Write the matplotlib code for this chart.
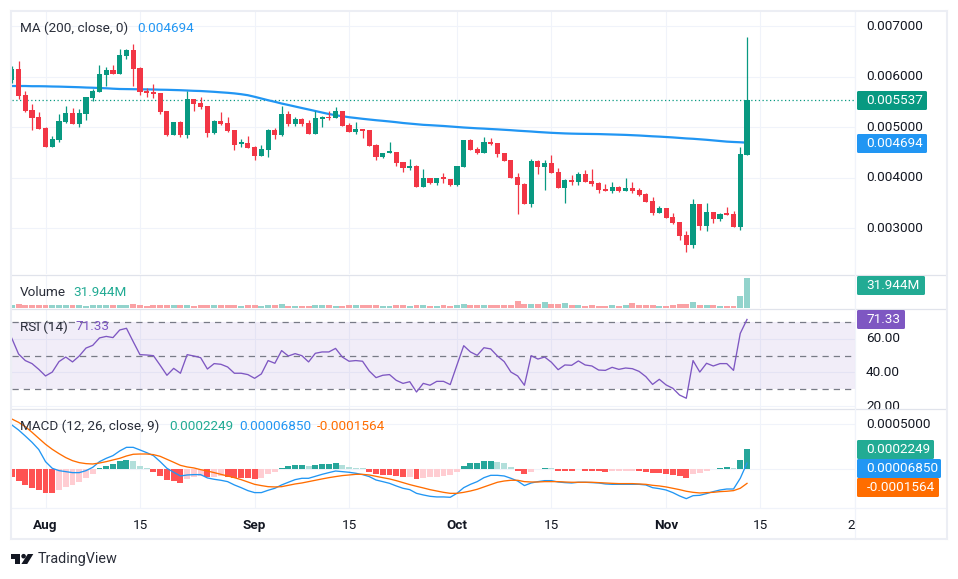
import matplotlib
matplotlib.use("Agg")
import matplotlib.pyplot as plt
from matplotlib.patches import FancyBboxPatch, Polygon, Circle
from matplotlib.transforms import Bbox
import numpy as np

W, H = 958, 579
plt.rcParams['font.family'] = ['Roboto', 'DejaVu Sans']

# ---------- data (prices in 0.001, MACD values in 0.0001, volume in millions) ----------
opens = [5.93,6.15,5.64,5.34,5.20,4.98,4.615,4.75,5.10,5.28,5.06,5.26,5.58,5.70,6.03,6.13,6.05,6.41,6.53,6.17,
         5.715,5.70,5.68,5.32,4.85,5.10,4.85,5.56,5.48,5.42,4.885,5.12,5.08,4.945,4.67,4.69,4.61,4.43,4.55,4.945,
         4.85,5.26,5.06,5.16,5.08,4.87,5.16,5.20,5.18,5.32,5.04,4.905,4.965,4.945,4.65,4.41,4.49,4.51,4.31,4.19,
         4.23,3.82,4.00,3.90,4.00,3.98,3.86,4.21,4.75,4.57,4.49,4.71,4.69,4.49,4.35,4.02,3.88,3.48,4.33,4.21,
         4.29,4.115,3.80,3.96,3.92,4.075,3.937,3.898,3.779,3.739,3.819,3.739,3.799,3.759,3.68,3.542,3.305,3.404,3.226,3.127,
         2.87,2.672,3.483,3.048,3.325,3.186,3.285,3.285,3.028,4.451]
closes = [6.15,5.62,5.32,5.19,4.96,4.615,4.76,5.12,5.28,5.06,5.28,5.60,5.715,6.05,6.13,6.05,6.43,6.53,6.15,5.70,
          5.68,5.66,5.30,4.85,5.10,4.85,5.56,5.46,5.40,4.885,5.12,5.06,4.925,4.65,4.69,4.59,4.43,4.57,4.945,4.85,
          5.26,5.06,5.16,5.06,4.87,5.18,5.20,5.18,5.32,5.02,4.905,4.965,4.925,4.63,4.41,4.49,4.51,4.29,4.19,4.23,
          3.82,4.00,3.90,4.00,3.98,3.86,4.23,4.75,4.55,4.49,4.71,4.67,4.47,4.33,4.00,3.86,3.48,4.33,4.21,4.29,
          4.095,3.80,3.96,3.92,4.075,3.917,3.878,3.759,3.739,3.819,3.739,3.799,3.739,3.661,3.522,3.305,3.404,3.206,3.107,2.85,
          2.672,3.483,3.048,3.325,3.186,3.285,3.265,3.028,4.471,5.537]
highs = [6.20,6.31,5.72,5.46,5.30,5.00,4.826,5.27,5.42,5.38,5.36,5.60,5.755,6.23,6.19,6.23,6.55,6.55,6.64,6.19,
         5.775,5.85,5.68,5.32,5.10,5.12,5.72,5.56,5.60,5.42,5.14,5.30,5.20,4.945,4.77,4.83,4.63,4.65,4.96,4.98,
         5.42,5.32,5.20,5.18,5.14,5.32,5.22,5.32,5.40,5.32,5.08,5.10,4.965,4.945,4.67,4.49,4.71,4.51,4.31,4.37,
         4.25,4.17,4.00,4.00,4.10,3.98,4.23,4.75,4.77,4.61,4.81,4.79,4.69,4.49,4.35,4.10,3.90,4.37,4.35,4.35,
         4.45,4.19,3.98,4.06,4.115,4.155,4.174,3.917,3.878,3.917,3.838,3.996,3.917,3.799,3.70,3.621,3.443,3.404,3.305,3.127,
         2.949,3.581,3.483,3.502,3.325,3.305,3.423,3.344,4.609,6.783]
lows = [5.87,5.56,5.31,4.945,4.96,4.615,4.615,4.71,5.08,5.06,5.00,5.14,5.52,5.70,5.81,6.05,6.05,6.35,5.81,5.64,
        5.60,5.58,5.26,4.83,4.85,4.81,4.79,5.32,5.36,4.81,4.87,5.04,4.905,4.55,4.61,4.59,4.35,4.43,4.41,4.77,
        4.83,5.02,5.02,5.02,4.87,4.87,5.00,5.14,5.18,5.02,4.905,4.866,4.79,4.63,4.35,4.39,4.49,4.23,4.115,4.15,
        3.82,3.82,3.88,3.86,3.90,3.84,3.84,4.21,4.55,4.47,4.49,4.65,4.41,4.33,4.00,3.285,3.48,3.42,4.075,3.76,
        4.095,3.80,3.50,3.86,3.86,3.917,3.838,3.70,3.739,3.70,3.72,3.739,3.70,3.641,3.522,3.265,3.305,3.206,3.087,2.771,
        2.534,2.613,2.969,2.949,3.107,3.147,3.265,3.028,2.969,4.451]
ma200 = [5.814,5.814,5.814,5.810,5.810,5.808,5.804,5.802,5.798,5.794,5.790,5.784,5.780,5.774,5.769,5.761,
         5.755,5.753,5.751,5.749,5.747,5.745,5.741,5.739,5.735,5.731,5.725,5.719,5.715,5.707,5.699,5.689,5.680,5.668,5.652,5.632,
         5.601,5.567,5.533,5.502,5.468,5.439,5.409,5.379,5.350,5.320,
         5.290,5.261,5.237,5.217,5.197,5.182,5.166,5.152,5.138,5.126,
         5.113,5.099,5.083,5.071,5.059,5.047,5.040,5.032,5.024,5.014,
         5.004,4.994,4.986,4.978,4.972,4.964,4.957,4.949,4.941,4.931,
         4.923,4.915,4.905,4.897,4.889,4.883,4.877,4.873,4.870,4.868,
         4.866,4.864,4.860,4.856,4.852,4.848,4.842,4.836,4.828,4.820,
         4.814,4.806,4.798,4.788,4.778,4.771,4.761,4.751,4.739,4.727,
         4.715,4.708,4.702,4.694]
last_close = 5.537
volume = [2.8,4.6,3.6,3.2,3.2,3.2,3.2,3.2,3.2,3.2,2.8,2.1,2.8,3.2,3.2,3.2,2.8,3.2,4.6,3.6,
          2.5,3.2,3.2,3.2,3.2,2.8,2.8,2.5,3.2,3.2,2.8,2.8,3.6,3.2,2.1,2.8,3.2,2.1,2.8,3.2,
          4.6,2.5,2.1,2.5,2.1,2.8,
          3.6,3.2,2.1,2.1,3.2,3.2,3.2,3.2,3.2,2.1,2.1,3.2,3.2,2.5,3.6,3.6,2.1,2.1,3.2,2.5,
          3.2,4.6,3.2,3.2,3.2,2.8,2.8,2.8,3.2,7.8,4.6,4.6,4.6,6.7,4.6,4.6,5.7,3.6,3.2,2.5,
          3.2,2.5,2.1,3.2,2.1,3.2,5.7,3.2,
          2.8,2.8,2.1,2.1,3.2,4.3,4.3,6.4,3.6,3.6,3.2,2.1,2.1,2.1,13.1,31.944]
rsi = [60.2,50.9,47.0,45.2,41.8,37.9,40.2,46.4,49.1,46.2,49.7,54.4,56.0,60.4,61.3,60.6,65.1,66.1,58.2,50.5,
       50.3,49.9,44.2,38.3,42.4,39.5,50.5,49.7,48.7,42.0,45.2,44.8,43.2,39.5,39.5,38.7,36.5,39.1,47.0,45.4,
       52.9,49.7,51.1,49.9,46.2,51.3,
       52.1,52.1,54.2,49.1,46.6,47.0,46.6,40.8,36.9,38.3,38.7,35.3,33.5,34.5,28.4,33.5,32.4,34.7,34.7,32.8,
       44.4,55.8,52.1,50.1,54.6,53.9,49.7,46.4,40.2,37.9,32.4,49.9,47.9,49.1,46.0,41.6,44.4,44.2,46.8,44.4,
       43.8,41.4,41.2,43.0,41.8,42.6,42.2,40.6,
       37.5,32.9,35.9,32.6,30.6,26.6,24.7,47.0,40.2,45.4,43.8,45.2,45.2,41.2,63.1,71.33]
macd_line = [4.93,4.37,3.70,3.00,2.19,0.85,0.11,-0.15,-0.26,-0.37,-0.37,-0.15,0.22,0.85,1.22,1.52,2.04,2.44,2.44,2.15,
             1.85,1.52,0.85,0.11,-0.33,-0.74,-0.63,-0.59,-0.59,-0.96,-1.11,-1.22,-1.37,-1.74,-2.04,-2.37,-2.59,-2.59,-2.33,-2.11,
             -1.74,-1.44,-1.15,-1.00,-1.00,-0.78,
             -0.56,-0.37,-0.19,-0.26,-0.33,-0.44,-0.59,-0.81,-1.19,-1.37,-1.56,-1.85,-2.11,-2.26,-2.67,-2.85,-3.00,-3.07,-3.07,-3.11,
             -2.67,-2.04,-1.67,-1.37,-0.93,-0.67,-0.67,-0.74,-1.00,-1.30,-1.81,-1.52,-1.37,-1.26,-1.26,-1.41,-1.48,-1.52,-1.44,-1.44,
             -1.48,-1.52,-1.63,-1.67,-1.67,-1.67,-1.67,-1.67,
             -1.74,-2.04,-2.15,-2.30,-2.59,-2.96,-3.26,-2.93,-2.89,-2.70,-2.48,-2.30,-2.19,-2.19,-1.00,0.685]
signal_line = [5.59,5.22,4.74,4.11,3.44,2.78,2.22,1.74,1.30,0.96,0.74,0.63,0.59,0.70,0.85,1.04,1.22,1.48,1.67,1.70,
               1.70,1.63,1.44,1.11,0.78,0.44,0.26,0.15,-0.04,-0.19,-0.37,-0.56,-0.74,-0.93,-1.15,-1.41,-1.67,-1.81,-1.93,-1.96,
               -1.93,-1.78,-1.63,-1.52,-1.37,-1.22,
               -1.07,-0.93,-0.81,-0.70,-0.63,-0.56,-0.56,-0.63,-0.78,-0.93,-1.07,-1.26,-1.48,-1.70,-1.89,-2.07,-2.26,-2.41,-2.56,-2.67,
               -2.67,-2.56,-2.41,-2.22,-1.96,-1.70,-1.44,-1.30,-1.22,-1.22,-1.37,-1.41,-1.41,-1.37,-1.37,-1.37,-1.41,-1.44,-1.44,-1.44,
               -1.44,-1.48,-1.52,-1.56,-1.59,-1.59,-1.59,-1.63,
               -1.67,-1.78,-1.85,-1.96,-2.11,-2.26,-2.44,-2.56,-2.63,-2.59,-2.56,-2.48,-2.44,-2.37,-2.11,-1.564]
hist = [-0.85,-1.30,-1.74,-2.07,-2.30,-2.63,-2.63,-2.30,-1.96,-1.74,-1.41,-0.96,-0.52,0.11,0.37,0.59,0.93,1.04,0.93,0.37,
        0.11,-0.30,-0.74,-1.19,-1.30,-1.52,-1.07,-0.85,-0.74,-0.85,-0.85,-0.70,-0.85,-0.96,-0.96,-0.96,-1.07,-0.96,-0.52,-0.30,
        0.19,0.33,0.48,0.48,0.33,0.48,
        0.56,0.56,0.70,0.48,0.26,0.15,0.15,-0.30,-0.56,-0.63,-0.63,-0.74,-0.81,-0.85,-1.04,-0.96,-0.89,-0.89,-0.70,-0.63,
        -0.30,0.41,0.70,0.70,0.93,0.93,0.81,0.70,0.26,-0.15,-0.52,-0.30,0.07,0.19,0.15,-0.15,-0.15,-0.15,0.07,-0.15,
        -0.15,-0.15,-0.30,-0.15,-0.15,-0.15,-0.15,-0.15,
        -0.26,-0.41,-0.41,-0.48,-0.63,-0.78,-0.93,-0.56,-0.41,-0.19,0.07,0.15,0.26,0.19,1.04,2.249]
# G dark green, g light green, R dark red, r light red
hist_tone = ("RRRRRRR" "rrrrrr" "GGGGG" "ggg" "RRRRR" "rrr" "R" "rr" "RRRRR" "rrr" "GGGG" "g" "G"
             "GGG" "gggg" "RRRRRR" "r" "R" "rrrrrr" "GGGGG" "ggg" "RR" "r" "GG" "g" "RRR" "G" "RRRR" "rrrr" "R"
             "RRRRRRR" "rrr" "GGG" "g" "GG")

tick_index = [5, 19, 36, 50, 66, 80, 97, 111, 125]
tick_text = ['Aug', '15', 'Sep', '15', 'Oct', '15', 'Nov', '15', '29']
tick_bold = [True, False, True, False, True, False, True, False, False]
price_ticks = [0.003, 0.004, 0.005, 0.006, 0.007]
rsi_ticks = [20, 40, 60]
macd_ticks = [0.0, 0.0005]

# ---------- layout ----------
PL, PR = 11.5, 855.5
X0, STEP = 11.8, 6.745
TEXT = '#131722'
GRID = '#f0f3fa'
SEP = '#e0e3eb'
FS = 9.7
GREEN, RED = '#089981', '#f23645'
BLUE, ORANGE, PURPLE, TEAL = '#2196f3', '#ff6d00', '#7e57c2', '#22ab94'

fig = plt.figure(figsize=(W / 100, H / 100), dpi=100, facecolor='white')

def pane(top, bottom, ylim):
    a = fig.add_axes([PL / W, 1 - bottom / H, (PR - PL) / W, (bottom - top) / H])
    a.set_xlim((PL - X0) / STEP, (PR - X0) / STEP)
    a.set_ylim(*ylim)
    for s in a.spines.values():
        s.set_visible(False)
    a.set_xticks(tick_index)
    a.set_xticklabels([])
    a.tick_params(length=0, labelsize=FS, labelcolor=TEXT, right=False, left=False,
                  labelright=True, labelleft=False, pad=7.6)
    a.grid(True, color=GRID, lw=0.75)
    a.set_axisbelow(True)
    a.patch.set_alpha(0)
    return a

def center_labels(a):
    for t in a.get_yticklabels():
        t.set_verticalalignment('center')

idx = np.arange(len(closes))
o, c, h, l = [np.array(v) * 1e-3 for v in (opens, closes, highs, lows)]
up = c >= o

# main
ax = pane(11, 274, (7e-3 - 248 / 50.6e3, 7e-3 + 15 / 50.6e3))
ax.set_yticks(price_ticks)
ax.set_yticklabels([f'{t:.6f}' for t in price_ticks])
center_labels(ax)
ax.axhline(last_close * 1e-3, color=GREEN, lw=0.9, ls=(0, (1, 2)), zorder=1)
ax.plot(idx, np.array(ma200) * 1e-3, color=BLUE, lw=1.6, zorder=2)
cols = [GREEN if u else RED for u in up]
ax.vlines(idx, l, h, colors=cols, lw=0.9, zorder=3)
ax.bar(idx, np.maximum(np.abs(c - o), 0.00003), bottom=np.minimum(o, c), width=0.76, color=cols, zorder=4)

# volume
vx = pane(275, 308, (0, 33 * 31.944 / 30))
vx.set_yticks([])
vx.bar(idx, volume, width=0.88, color=['#92d3cc' if u else '#faa1a4' for u in up], zorder=3)

# RSI
rx = pane(309, 409, (70 - 100 / 1.69 + 12.7 / 1.69, 70 + 12.7 / 1.69))
rx.set_yticks(rsi_ticks)
rx.set_yticklabels([f'{t:.2f}' for t in rsi_ticks])
center_labels(rx)
rx.axhspan(30, 70, color=PURPLE, alpha=0.1, lw=0, zorder=1)
for lev in (30, 50, 70):
    rx.axhline(lev, color='#787b86', lw=0.9, ls=(0, (5, 4)), zorder=2)
rx.plot(idx, rsi, color=PURPLE, lw=0.95, zorder=3)
for t in rx.get_yticklabels():
    t.set_clip_on(True)
    t.set_clip_box(Bbox([[0, H - 409], [W, H - 309]]))

# MACD
mx = pane(409, 508, ((469.3 - 508) * 0.111111e-4, (469.3 - 409) * 0.111111e-4))
mx.set_yticks(macd_ticks)
mx.set_yticklabels(['', '0.0005000'])
center_labels(mx)
tone = {'G': '#26a69a', 'g': '#b2dfdb', 'R': '#ff5252', 'r': '#ffcdd2'}
mx.bar(idx, np.array(hist) * 1e-4, width=0.88, color=[tone[k] for k in hist_tone], zorder=2)
mx.plot(idx, np.array(macd_line) * 1e-4, color=BLUE, lw=0.95, zorder=3)
mx.plot(idx, np.array(signal_line) * 1e-4, color=ORANGE, lw=0.95, zorder=4)
mx.set_xticklabels(tick_text)
mx.tick_params(axis='x', labelbottom=True, pad=8.0)
for t, b in zip(mx.get_xticklabels(), tick_bold):
    t.set_fontweight('bold' if b else 'normal')
    t.set_clip_on(True)
    t.set_clip_box(Bbox([[0, 0], [PR, H]]))

# overlay in pixel space: frame, separators, legends, price labels, logo
ov = fig.add_axes([0, 0, 1, 1], zorder=10)
ov.set_xlim(0, W)
ov.set_ylim(H, 0)
ov.axis('off')

for y in (274.5, 308.5, 409):
    ov.plot([PL, 946], [y, y], color=SEP, lw=0.9)
ov.plot([PL, 946], [508, 508], color=GRID, lw=0.9)
ov.plot([PR, PR], [11, 539], color=GRID, lw=0.9)
for xs, ys in (([10.8, 946.8], [10.8, 10.8]), ([10.8, 946.8], [539, 539]),
               ([10.8, 10.8], [10.8, 539]), ([946.8, 946.8], [10.8, 539])):
    ov.plot(xs, ys, color='#eceef4', lw=1.5)

def legend(x, y, s, color):
    ov.text(x, y, s, color=color, fontsize=FS, va='center', ha='left')

LEG = '#2a2e39'
legend(20, 28, 'MA (200, close, 0)', LEG)
legend(137, 28, '0.004694', BLUE)
legend(20, 292, 'Volume', LEG)
legend(73, 292, '31.944M', TEAL)
legend(20, 327, 'RSI (14)', LEG)
legend(75, 327, '71.33', PURPLE)
legend(20, 426, 'MACD (12, 26, close, 9)', LEG)
legend(169, 426, '0.0002249', TEAL)
legend(239, 426, '0.00006850', BLUE)
legend(317, 426, '-0.0001564', ORANGE)

def tag(x1, y1, y2, s, color):
    ov.add_patch(FancyBboxPatch((857, y1), x1 - 857, y2 - y1, boxstyle='round,pad=0,rounding_size=1.5',
                                fc=color, ec='none', zorder=5))
    ov.text(866.5, (y1 + y2) / 2, s, color='white', fontsize=FS, va='center', ha='left', zorder=6)

tag(927, 91, 110, '0.005537', GREEN)
tag(927, 134, 153, '0.004694', BLUE)
tag(925, 276, 295, '31.944M', TEAL)
tag(905, 310, 329, '71.33', PURPLE)
tag(934, 440, 459, '0.0002249', TEAL)
tag(941, 459, 478, '0.00006850', BLUE)
tag(939, 478, 497, '-0.0001564', ORANGE)

# logo
ov.add_patch(Polygon([(11, 554), (20.5, 554), (20.5, 564), (15.5, 564), (15.5, 558.5), (11, 558.5)], fc='#131722', ec='none'))
ov.add_patch(Circle((23.6, 556.2), 2.3, fc='#131722', ec='none'))
ov.add_patch(Polygon([(27.8, 554), (33.3, 554), (27.2, 564), (21.4, 564)], fc='#131722', ec='none'))
ov.text(37.8, 559.5, 'TradingView', color='#2a2e39', fontsize=10.4, va='center', ha='left')

fig.savefig('out.png', dpi=100, facecolor='white')
